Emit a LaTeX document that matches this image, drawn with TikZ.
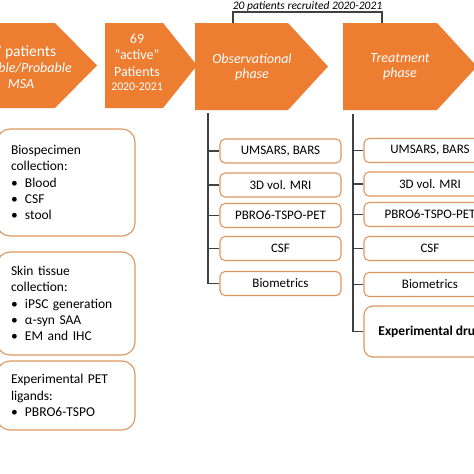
\documentclass[tikz,border=0pt]{standalone}
\usepackage{fontspec}
\setmainfont{Carlito}
\definecolor{arrowor}{RGB}{237,125,49}
\definecolor{boxor}{RGB}{222,150,95}
\definecolor{linegray}{RGB}{64,64,64}
\begin{document}
\begin{tikzpicture}[x=1pt,y=-1pt,
  atext/.style={text=white, inner sep=0, anchor=base},
  smallbox/.style={draw=boxor, line width=1.1pt, rounded corners=5pt, fill=white, minimum height=24pt, font=\fontsize{13}{15}\selectfont, inner sep=0},
  bigbox/.style={draw=boxor, line width=1.1pt, rounded corners=13pt, align=left, text width=110pt, inner xsep=14pt, inner ysep=0pt, font=\fontsize{13.5}{16.3}\selectfont},
  conn/.style={draw=linegray, line width=1.1pt},
  bul/.style={}]
\clip (0,0) rectangle (474,474);
\fill[white] (0,0) rectangle (474,474);
% arrows
\fill[arrowor] (-60,23) -- (55,23) -- (97,65.5) -- (55,108) -- (-60,108) -- cycle;
\fill[arrowor] (105,23) -- (163,23) -- (197,65.5) -- (163,108) -- (105,108) -- cycle;
\fill[arrowor] (195,23) -- (288,23) -- (328,66.5) -- (288,110) -- (195,110) -- cycle;
\fill[arrowor] (343,23) -- (437,23) -- (477,66.5) -- (437,110) -- (343,110) -- cycle;
% arrow texts
\node[atext, font=\fontsize{15.5}{18}\selectfont] (a1a) at (21,56) {77 patients};
\node[atext, font=\fontsize{14}{17}\selectfont\itshape] (a1b) at (21,72) {Possible/Probable};
\node[atext, font=\fontsize{14}{17}\selectfont\itshape] (a1c) at (21,88) {MSA};
\node[atext, font=\fontsize{14}{17}\selectfont] (a2a) at (137,43) {69};
\node[atext, font=\fontsize{14}{17}\selectfont] (a2b) at (137,59) {“active”};
\node[atext, font=\fontsize{14}{17}\selectfont] (a2c) at (137,76) {Patients};
\node[atext, font=\fontsize{11.8}{14}\selectfont] (a2d) at (137,90.5) {2020-2021};
\node[atext, font=\fontsize{14}{17}\selectfont\itshape] (a3a) at (252,63) {Observational};
\node[atext, font=\fontsize{14}{17}\selectfont\itshape] (a3b) at (252,78) {phase};
\node[atext, font=\fontsize{14}{17}\selectfont\itshape] (a4a) at (400,62) {Treatment};
\node[atext, font=\fontsize{14}{17}\selectfont\itshape] (a4b) at (400,77) {phase};
% bracket
\coordinate (obstop) at (233,23);
\coordinate (trttop) at (382,23);
\draw[conn] (obstop) -- (233,12) -| (trttop);
\node[inner sep=0, anchor=base, font=\fontsize{11.5}{14}\selectfont\itshape] (rec) at (307.5,9) {20 patients recruited 2020-2021};
% big boxes
\node[bigbox, minimum height=107pt] (bio) at (66,182.5) {Biospecimen\\collection:\\\makebox[14pt][l]{\textbullet}Blood\\\makebox[14pt][l]{\textbullet}CSF\\\makebox[14pt][l]{\textbullet}stool};
\node[bigbox, minimum height=103pt] (skin) at (66,303.5) {Skin tissue\\collection:\\\makebox[14pt][l]{\textbullet}iPSC generation\\\makebox[14pt][l]{\textbullet}α-syn SAA\\\makebox[14pt][l]{\textbullet}EM and IHC};
\node[bigbox, minimum height=69pt] (pet) at (66,395.5) {Experimental PET\\ligands:\\\makebox[14pt][l]{\textbullet}PBRO6-TSPO};
% observational column
\node[smallbox, minimum width=121pt] (o1) at (280.5,151) {UMSARS, BARS};
\node[smallbox, minimum width=121pt] (o2) at (280.5,185) {3D vol. MRI};
\node[smallbox, minimum width=121pt] (o3) at (280.5,215.5) {PBRO6-TSPO-PET};
\node[smallbox, minimum width=121pt] (o4) at (280.5,248.5) {CSF};
\node[smallbox, minimum width=121pt] (o5) at (280.5,283.5) {Biometrics};
\coordinate (obsbot) at (208,113);
\draw[conn] (obsbot) |- (o5.west);
\foreach \n in {o1,o2,o3,o4} \draw[conn] (obsbot |- \n.west) -- (\n.west);
% treatment column
\node[smallbox, minimum width=132pt] (t1) at (430,150.5) {UMSARS, BARS};
\node[smallbox, minimum width=132pt] (t2) at (430,184) {3D vol. MRI};
\node[smallbox, minimum width=132pt] (t3) at (430,214.5) {PBRO6-TSPO-PET};
\node[smallbox, minimum width=132pt] (t4) at (430,248.5) {CSF};
\node[smallbox, minimum width=132pt] (t5) at (430,284.5) {Biometrics};
\node[smallbox, minimum width=132pt, minimum height=51pt, rounded corners=9pt, font=\fontsize{13.5}{16}\selectfont\bfseries] (t6) at (430,331.5) {Experimental drug};
\coordinate (trtbot) at (353,114);
\draw[conn] (trtbot) |- (t6.west);
\foreach \n in {t1,t2,t3,t4,t5} \draw[conn] (trtbot |- \n.west) -- (\n.west);
\end{tikzpicture}
\end{document}
